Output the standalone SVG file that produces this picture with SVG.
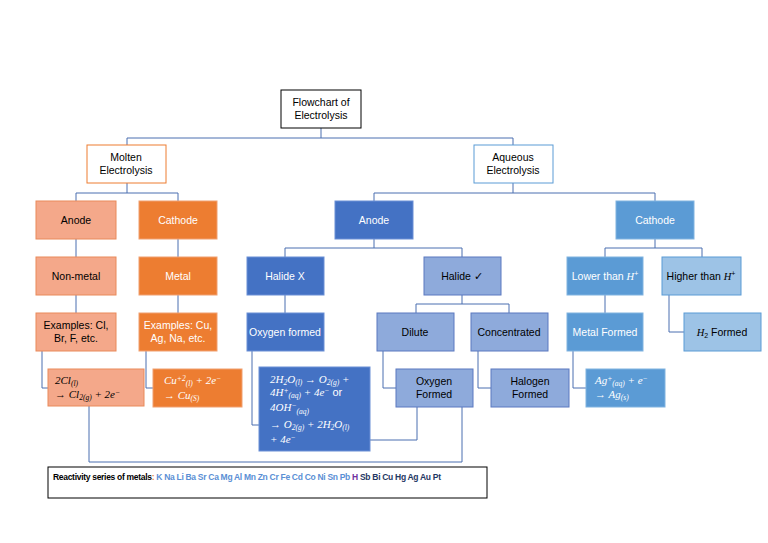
<svg xmlns="http://www.w3.org/2000/svg" width="768" height="543" viewBox="0 0 768 543">
<style>
text{font-family:"Liberation Sans",Arial,sans-serif;font-size:10.5px;text-anchor:middle}
.m{font-family:"Liberation Serif",serif;font-style:italic;text-anchor:start;font-size:11px}
.c line,.c polyline{stroke:#4a6fb0;stroke-width:1;fill:none}
.w{fill:#fff}
.sal{fill:#f4a88a;stroke:#e98a5a}
.org{fill:#ed7d31;stroke:#f0a070}
.dk{fill:#4472c4;stroke:#6a8fd6}
.md{fill:#5b9bd5;stroke:#80b3e0}
.lv{fill:#8eaadb;stroke:#5b79c0}
.lt{fill:#9dc3e6;stroke:#5b9bd5}
</style>
<rect width="768" height="543" fill="#fff"/>
<g class="c">
<polyline points="321,128 321,138 127,138 127,145"/>
<polyline points="321,138 513,138 513,145"/>
<polyline points="127,183 127,193 76,193 76,201"/>
<polyline points="127,193 178,193 178,201"/>
<line x1="76" y1="239" x2="76" y2="257"/><line x1="76" y1="295" x2="76" y2="313"/>
<line x1="178" y1="239" x2="178" y2="257"/><line x1="178" y1="295" x2="178" y2="313"/>
<polyline points="42,351 42,388 48,388"/>
<polyline points="146,351 146,388 153,388"/>
<polyline points="513,183 513,193 374,193 374,201"/>
<polyline points="513,193 655,193 655,201"/>
<polyline points="374,239 374,248 285,248 285,257"/>
<polyline points="374,248 462,248 462,257"/>
<line x1="285" y1="295" x2="285" y2="313"/>
<polyline points="252,351 252,425 259,425"/>
<polyline points="462,295 462,304 416,304 416,313"/>
<polyline points="462,304 509,304 509,313"/>
<polyline points="383,351 383,388 396,388"/>
<polyline points="478,351 478,388 491,388"/>
<polyline points="417,407 417,440 360,440"/>
<polyline points="655,239 655,248 605,248 605,257"/>
<polyline points="655,248 702,248 702,257"/>
<line x1="605" y1="295" x2="605" y2="313"/>
<polyline points="669,295 669,332 684,332"/>
<polyline points="573,351 573,388 586,388"/>
<polyline points="89,406 89,462 462,462 462,407" stroke="#8eb4e3"/>
</g>
<g id="title"><rect x="281" y="90" width="80" height="38" class="w" stroke="#000"/><text x="321" y="106">Flowchart of</text><text x="321" y="119">Electrolysis</text></g>
<g id="molten"><rect x="87" y="145" width="79" height="38" class="w" stroke="#ed7d31"/><text x="126" y="161">Molten</text><text x="126" y="174">Electrolysis</text></g>
<g id="aqueous"><rect x="474" y="145" width="79" height="38" class="w" stroke="#5b9bd5"/><text x="513" y="161">Aqueous</text><text x="513" y="174">Electrolysis</text></g>
<g id="m-anode"><rect x="36" y="201" width="80" height="38" class="sal"/><text x="76" y="224">Anode</text></g>
<g id="m-cathode"><rect x="139" y="201" width="78" height="38" class="org"/><text x="178" y="224" fill="#fff">Cathode</text></g>
<g id="nonmetal"><rect x="36" y="257" width="80" height="38" class="sal"/><text x="76" y="280">Non-metal</text></g>
<g id="metal"><rect x="139" y="257" width="78" height="38" class="org"/><text x="178" y="280" fill="#fff">Metal</text></g>
<g id="ex1"><rect x="36" y="313" width="80" height="38" class="sal"/><text x="76" y="329">Examples: Cl,</text><text x="76" y="342">Br, F, etc.</text></g>
<g id="ex2"><rect x="139" y="313" width="78" height="38" class="org"/><text x="178" y="329" fill="#fff">Examples: Cu,</text><text x="178" y="342" fill="#fff">Ag, Na, etc.</text></g>
<g id="eq1"><rect x="48" y="369" width="96" height="37" class="sal"/><text class="m" x="55" y="384">2Cl<tspan font-size="7.5" dy="2">(l)</tspan></text><text class="m" x="55" y="398">→ Cl<tspan font-size="7.5" dy="2">2(g)</tspan><tspan dy="-2"> + 2e</tspan><tspan font-size="7.5" dy="-3">−</tspan></text></g>
<g id="eq2"><rect x="153" y="369" width="89" height="38" class="org"/><text class="m" x="164" y="384" fill="#fff">Cu<tspan font-size="7.5" dy="-3">+2</tspan><tspan font-size="7.5" dy="5">(l)</tspan><tspan dy="-2"> + 2e</tspan><tspan font-size="7.5" dy="-3">−</tspan></text><text class="m" x="164" y="399" fill="#fff">→ Cu<tspan font-size="7.5" dy="2">(S)</tspan></text></g>
<g id="a-anode"><rect x="335" y="201" width="78" height="38" class="dk"/><text x="374" y="224" fill="#fff">Anode</text></g>
<g id="a-cathode"><rect x="616" y="201" width="78" height="38" class="md"/><text x="655" y="224" fill="#fff">Cathode</text></g>
<g id="halidex"><rect x="247" y="257" width="77" height="38" class="dk"/><text x="285" y="280" fill="#fff">Halide X</text></g>
<g id="halidecheck"><rect x="424" y="257" width="77" height="38" class="lv"/><text x="462" y="280">Halide ✓</text></g>
<g id="oxy1"><rect x="247" y="313" width="77" height="38" class="dk"/><text x="285" y="336" fill="#fff">Oxygen formed</text></g>
<g id="eq3"><rect x="259" y="367" width="111" height="84" class="dk"/>
<text class="m" x="270" y="383" fill="#fff">2H<tspan font-size="7.5" dy="2">2</tspan><tspan dy="-2">O</tspan><tspan font-size="7.5" dy="2">(l)</tspan><tspan dy="-2"> → O</tspan><tspan font-size="7.5" dy="2">2(g)</tspan><tspan dy="-2"> +</tspan></text>
<text class="m" x="270" y="396" fill="#fff">4H<tspan font-size="7.5" dy="-3">+</tspan><tspan font-size="7.5" dy="5">(aq)</tspan><tspan dy="-2"> + 4e</tspan><tspan font-size="7.5" dy="-3">−</tspan><tspan dy="3" font-style="normal" font-family="Liberation Sans"> or</tspan></text>
<text class="m" x="270" y="411" fill="#fff">4OH<tspan font-size="7.5" dy="-3">−</tspan><tspan font-size="7.5" dy="6">(aq)</tspan></text>
<text class="m" x="270" y="428" fill="#fff">→ O<tspan font-size="7.5" dy="2">2(g)</tspan><tspan dy="-2"> + 2H</tspan><tspan font-size="7.5" dy="2">2</tspan><tspan dy="-2">O</tspan><tspan font-size="7.5" dy="2">(l)</tspan></text>
<text class="m" x="270" y="443" fill="#fff">+ 4e<tspan font-size="7.5" dy="-3">−</tspan></text></g>
<g id="dilute"><rect x="377" y="313" width="77" height="38" class="lv"/><text x="415" y="336">Dilute</text></g>
<g id="conc"><rect x="471" y="313" width="77" height="38" class="lv"/><text x="509" y="336">Concentrated</text></g>
<g id="oxy2"><rect x="396" y="369" width="77" height="38" class="lv"/><text x="434" y="385">Oxygen</text><text x="434" y="398">Formed</text></g>
<g id="halogen"><rect x="491" y="369" width="78" height="38" class="lv"/><text x="530" y="385">Halogen</text><text x="530" y="398">Formed</text></g>
<g id="lower"><rect x="567" y="257" width="76" height="38" class="md"/><text x="605" y="280" fill="#fff">Lower than <tspan font-family="Liberation Serif" font-style="italic">H</tspan><tspan font-size="7" dy="-4">+</tspan></text></g>
<g id="higher"><rect x="662" y="257" width="79" height="38" class="lt"/><text x="701" y="280">Higher than <tspan font-family="Liberation Serif" font-style="italic">H</tspan><tspan font-size="7" dy="-4">+</tspan></text></g>
<g id="metalformed"><rect x="567" y="313" width="76" height="38" class="md"/><text x="605" y="336" fill="#fff">Metal Formed</text></g>
<g id="h2"><rect x="684" y="313" width="77" height="38" class="lt"/><text x="722" y="336"><tspan font-family="Liberation Serif" font-style="italic">H</tspan><tspan font-size="7" dy="2">2</tspan><tspan dy="-2"> Formed</tspan></text></g>
<g id="eq4"><rect x="586" y="369" width="79" height="38" class="md"/><text class="m" x="595" y="384" fill="#fff">Ag<tspan font-size="7.5" dy="-3">+</tspan><tspan font-size="7.5" dy="5">(aq)</tspan><tspan dy="-2"> + e</tspan><tspan font-size="7.5" dy="-3">−</tspan></text><text class="m" x="595" y="398" fill="#fff">→ Ag<tspan font-size="7.5" dy="2">(s)</tspan></text></g>
<g id="reactivity"><rect x="48" y="467" width="439" height="31" fill="#fff" stroke="#000"/>
<text x="53" y="480" style="text-anchor:start;font-family:'Liberation Sans',sans-serif;font-size:8.5px;font-weight:bold" letter-spacing="-0.3"><tspan fill="#000">Reactivity series of metals</tspan><tspan fill="#ed7d31">: </tspan><tspan fill="#5b8fd5">K Na Li Ba Sr Ca Mg Al Mn Zn Cr Fe Cd Co Ni Sn Pb </tspan><tspan fill="#7030a0"> H </tspan><tspan fill="#1f3864"> Sb Bi Cu Hg Ag Au Pt</tspan></text></g>
</svg>
